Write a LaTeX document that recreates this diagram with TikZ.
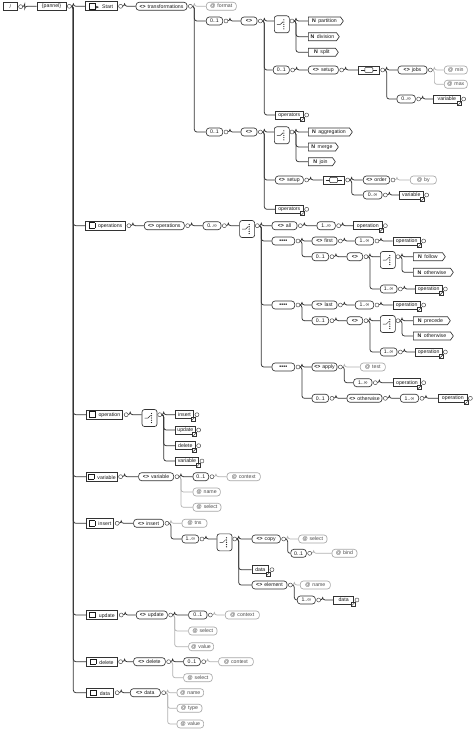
\documentclass[tikz,border=0pt]{standalone}
\usepackage{fontspec}
\setmainfont{Liberation Sans}
\newfontfamily\djv{DejaVu Sans}
\usetikzlibrary{shapes.symbols,calc}
\pgfdeclarelayer{bgg}
\pgfdeclarelayer{bgd}
\pgfsetlayers{bgg,bgd,main}
\tikzset{
 base/.style={font=\fontsize{5.2}{6}\selectfont, inner xsep=1pt, inner ysep=0pt, minimum height=8pt,
   text=black!90, draw=black!80, line width=0.65pt, fill=white, anchor=west},
 elbox/.style={base, rectangle},
 gbox/.style={base, rectangle, minimum height=9.3pt, line width=0.9pt},
 pill/.style={base, rounded corners=3pt},
 card/.style={pill},
 attr/.style={base, rounded corners=3pt, draw=black!35, text=black!70},
 enumn/.style={base, signal, signal to=east, signal pointer angle=110},
 refbox/.style={elbox},
 chbox/.style={base, rounded corners=2.5pt, minimum width=15pt, minimum height=17pt, anchor=north west},
 sqbox/.style={elbox, minimum width=21pt},
 cbtn/.style={circle, draw=black!75, fill=white, line width=0.45pt, inner sep=0pt, minimum size=4pt},
 dk/.style={draw=black!80, line width=0.75pt, rounded corners=2.5pt},
 lt/.style={draw=black!30, line width=0.7pt, rounded corners=2.5pt},
}
\newcommand\Nd[6]{\node[#1, minimum width={#4-#3}] (#2) at (#3,#5) {#6};}
\newcommand\Cb[1]{\node[cbtn] (#1c) at ([xshift=3pt]#1.east) {};}
\newcommand\Cnd[2]{\begin{pgfonlayer}{bgd}\draw[dk] (#1c.center) -- ++(4,0) |- (#2.west);\end{pgfonlayer}}
\newcommand\Cng[2]{\begin{pgfonlayer}{bgg}\draw[lt] (#1c.center) -- ++(4,0) |- (#2.west);\end{pgfonlayer}}
\newcommand\Chz[3]{%
 \node[chbox] (#1b) at (#2,#3-5.5) {};
 \coordinate (#1) at (#2,#3);
 \node[cbtn] (#1c) at (#2+18,#3) {};
 \draw[line width=0.5pt,black!85] ([shift={(-5,0)}]#1b.center) -- ++(3.5,0) -- ++(2.6,-2.6);
 \foreach \k in {-4.5,-2.25,0,2.25,4.5}{\fill[black!85] ([shift={(2,\k)}]#1b.center) circle (0.65pt);}
}
\newcommand\Rf[1]{%
 \draw[fill=white, draw=black!80, line width=0.45pt] ([shift={(-3,-2)}]#1.south east) rectangle ++(4,4);
 \draw[line width=0.45pt,black!85] ([shift={(-2.3,1.4)}]#1.south east) -- ++(2.6,-2.6);
}
\newcommand\Sqic[1]{%
 \draw[line width=0.5pt,black!85] ([xshift=-8pt]#1.center) -- ([xshift=8pt]#1.center);
 \draw[line width=0.5pt,black!85,fill=white,rounded corners=0.8pt] ([shift={(-4,-2.5)}]#1.center) rectangle ++(8,5);
}
\newcommand\Ico{\textbf{<>}\hspace{2pt}}
\newcommand\Ica{\textbf{@}\hspace{2pt}}
\newcommand\Icn{\textbf{N}\hspace{2.5pt}}
\newcommand\Icq{{\setlength\fboxsep{0pt}\setlength\fboxrule{0.5pt}\fbox{\rule{0pt}{5pt}\rule{5.5pt}{0pt}}}\hspace{3pt}}
\newcommand\Dots{{\fontsize{5.5}{5}\selectfont\textbf{••••}}}
\begin{document}
\begin{tikzpicture}[x=1pt,y=-1pt]
\useasboundingbox (0,0) rectangle (474,730);
\begin{pgfonlayer}{bgg}\fill[white] (0,0) rectangle (474,730);\end{pgfonlayer}
% ---- top rows
\Nd{elbox}{root}{3}{17}{6.7}{/} \Cb{root}
\Nd{elbox}{pan}{36.7}{65.7}{6.3}{\{pannel\}} \Cb{pan}
\Nd{gbox}{start}{85}{116.7}{6.3}{\Icq\hspace{-2.5pt}{\djv\fontsize{3.5}{4}\selectfont ▶}\hspace{3pt}Start} \Cb{start}
\Nd{pill}{trans}{135.7}{186.7}{6.3}{\Ico transformations} \Cb{trans}
\Nd{attr}{format}{206}{236}{6.3}{\Ica format}
\Nd{card}{to1}{206}{222.3}{21}{0..1} \Cb{to1}
\Nd{pill}{ts1}{240.7}{256.7}{21}{\textbf{<>}} \Cb{ts1}
\Chz{tch1}{274}{21}
\Nd{enumn}{part}{308}{343}{21}{\Icn partition}
\Nd{enumn}{divi}{308}{339}{36.7}{\Icn division}
\Nd{enumn}{split}{308}{338}{52.3}{\Icn split}
\Nd{card}{to2}{273}{289}{70}{0..1} \Cb{to2}
\Nd{pill}{tsetup}{308}{338}{70}{\Ico setup} \Cb{tsetup}
\Nd{sqbox}{tseq1}{358}{379}{70}{} \Cb{tseq1} \Sqic{tseq1}
\Nd{pill}{jobs}{397.7}{426.7}{70}{\Ico jobs} \Cb{jobs}
\Nd{attr}{amin}{444}{467}{70}{\Ica min}
\Nd{attr}{amax}{444}{467}{84.3}{\Ica max}
\Nd{card}{tvinf}{396.7}{415}{99}{0..∞} \Cb{tvinf}
\Nd{refbox}{tvar}{433}{460}{99}{variable} \Cb{tvar}
\Nd{refbox}{tops1}{275}{303}{115}{operators} \Cb{tops1}
\Nd{card}{to3}{206}{222.3}{132}{0..1} \Cb{to3}
\Nd{pill}{ts2}{240.7}{256.7}{132}{\textbf{<>}} \Cb{ts2}
\Chz{tch2}{274}{132}
\Nd{enumn}{agg}{308}{352}{132}{\Icn aggregation}
\Nd{enumn}{merge}{308}{338}{147}{\Icn merge}
\Nd{enumn}{join}{308}{335}{161.7}{\Icn join}
\Nd{pill}{tsetup2}{275}{303}{180}{\Ico setup} \Cb{tsetup2}
\Nd{sqbox}{tseq2}{322.7}{344}{180}{} \Cb{tseq2} \Sqic{tseq2}
\Nd{pill}{order}{363}{389.3}{180}{\Ico order} \Cb{order}
\Nd{attr}{aby}{410}{436}{180}{\Ica by}
\Nd{card}{tvinf2}{363}{381.7}{195}{0..∞} \Cb{tvinf2}
\Nd{refbox}{tvar2}{399}{423}{195}{variable} \Cb{tvar2}
\Nd{refbox}{tops2}{275}{303}{209.3}{operators} \Cb{tops2}
% ---- operations
\Nd{gbox}{gops}{85}{125}{225.7}{\Icq operations} \Cb{gops}
\Nd{pill}{oops}{144}{184}{225.7}{\Ico operations} \Cb{oops}
\Nd{card}{oinf}{202.7}{220.7}{225.7}{0..∞} \Cb{oinf}
\Chz{och}{239.3}{225.7}
\Nd{pill}{oall}{271.7}{296.7}{225.7}{\Ico all} \Cb{oall}
\Nd{card}{oall1}{316.7}{335}{225.7}{1..∞} \Cb{oall1}
\Nd{refbox}{oallop}{353.3}{381.7}{225.7}{operation} \Cb{oallop}
\Nd{pill}{osq1}{271.7}{294.3}{241}{\Dots} \Cb{osq1}
\Nd{pill}{ofirst}{311.7}{336.7}{241}{\Ico first} \Cb{ofirst}
\Nd{card}{of1}{355}{373.3}{241}{1..∞} \Cb{of1}
\Nd{refbox}{ofop}{392.7}{420}{241}{operation} \Cb{ofop}
\Nd{card}{ofo1}{311.7}{328.3}{256.7}{0..1} \Cb{ofo1}
\Nd{pill}{ofs}{346.7}{362.3}{256.7}{\textbf{<>}} \Cb{ofs}
\Chz{ofch}{380}{256.7}
\Nd{enumn}{follow}{413}{445}{256.7}{\Icn follow}
\Nd{enumn}{fother}{413}{453}{272.3}{\Icn otherwise}
\Nd{card}{ofinf}{380}{396.7}{289}{1..∞} \Cb{ofinf}
\Nd{refbox}{ofop2}{415}{441.7}{289}{operation} \Cb{ofop2}
\Nd{pill}{osq2}{271.7}{294.3}{305}{\Dots} \Cb{osq2}
\Nd{pill}{olast}{311.7}{336.7}{305}{\Ico last} \Cb{olast}
\Nd{card}{ol1}{355}{373.3}{305}{1..∞} \Cb{ol1}
\Nd{refbox}{olop}{392.7}{420}{305}{operation} \Cb{olop}
\Nd{card}{olo1}{311.7}{328.3}{320.7}{0..1} \Cb{olo1}
\Nd{pill}{ols}{346.7}{362.3}{320.7}{\textbf{<>}} \Cb{ols}
\Chz{olch}{380}{320.7}
\Nd{enumn}{precede}{413}{450}{320.7}{\Icn precede}
\Nd{enumn}{lother}{413}{453}{336}{\Icn otherwise}
\Nd{card}{olinf}{380}{396.7}{352}{1..∞} \Cb{olinf}
\Nd{refbox}{olop2}{415}{441.7}{352}{operation} \Cb{olop2}
\Nd{pill}{osq3}{271.7}{294.3}{367}{\Dots} \Cb{osq3}
\Nd{pill}{oapply}{311.7}{336.7}{367}{\Ico apply} \Cb{oapply}
\Nd{attr}{atest}{360}{385}{367}{\Ica test}
\Nd{card}{oa1}{353.3}{371.7}{382.7}{1..∞} \Cb{oa1}
\Nd{refbox}{oaop}{393.3}{420}{382.7}{operation} \Cb{oaop}
\Nd{card}{oao1}{311.7}{328.3}{398.3}{0..1} \Cb{oao1}
\Nd{pill}{oother}{346.7}{381.7}{398.3}{\Ico otherwise} \Cb{oother}
\Nd{card}{ooinf}{400}{418.3}{398.3}{1..∞} \Cb{ooinf}
\Nd{refbox}{ooop}{438.3}{466.7}{398.3}{operation} \Cb{ooop}
% ---- operation
\Nd{gbox}{gop}{86}{122.3}{414.7}{\Icq operation} \Cb{gop}
\Chz{pch}{141.7}{414.7}
\Nd{refbox}{pins}{175}{193.3}{414.7}{insert} \Cb{pins}
\Nd{refbox}{pupd}{175}{195}{430}{update} \Cb{pupd}
\Nd{refbox}{pdel}{175}{195}{445.7}{delete} \Cb{pdel}
\Nd{refbox}{pvar}{175}{198.3}{461}{variable} \Cb{pvar}
% ---- variable
\Nd{gbox}{gvar}{86}{116.7}{476.7}{\Icq variable} \Cb{gvar}
\Nd{pill}{vvar}{138.3}{173.3}{476.7}{\Ico variable} \Cb{vvar}
\Nd{card}{vo1}{192.7}{208.3}{476.7}{0..1} \Cb{vo1}
\Nd{attr}{vctx}{226.7}{260}{476.7}{\Ica context}
\Nd{attr}{vname}{192.7}{220}{492}{\Ica name}
\Nd{attr}{vsel}{192.7}{220.7}{507.3}{\Ica select}
% ---- insert
\Nd{gbox}{gins}{86}{113.3}{523.3}{\Icq insert} \Cb{gins}
\Nd{pill}{iins}{133.3}{163.3}{523.3}{\Ico insert} \Cb{iins}
\Nd{attr}{itns}{181.7}{206.7}{523.3}{\Ica tns}
\Nd{card}{iinf}{181.7}{198.3}{539}{1..∞} \Cb{iinf}
\Chz{ich}{216.7}{539}
\Nd{pill}{icopy}{251.7}{280}{539}{\Ico copy} \Cb{icopy}
\Nd{attr}{icsel}{298.3}{326.7}{539}{\Ica select}
\Nd{card}{io1}{290.5}{306}{553.3}{0..1} \Cb{io1}
\Nd{attr}{ibind}{331.7}{356.7}{553.3}{\Ica bind}
\Nd{refbox}{idata}{251.7}{268.3}{569.7}{data} \Cb{idata}
\Nd{pill}{ielem}{251.7}{286.7}{585}{\Ico element} \Cb{ielem}
\Nd{attr}{iename}{300}{330}{585}{\Ica name}
\Nd{card}{ieinf}{297}{315}{600}{1..∞} \Cb{ieinf}
\Nd{refbox}{iedata}{333.3}{353.3}{600}{data} \Cb{iedata}
% ---- update
\Nd{gbox}{gupd}{86}{117.3}{615}{\Icq update} \Cb{gupd}
\Nd{pill}{uupd}{136}{167}{615}{\Ico update} \Cb{uupd}
\Nd{card}{uo1}{188.3}{206.7}{615}{0..1} \Cb{uo1}
\Nd{attr}{uctx}{225}{259}{615}{\Ica context}
\Nd{attr}{usel}{188.3}{216.7}{631}{\Ica select}
\Nd{attr}{uval}{188.3}{213.3}{646.7}{\Ica value}
% ---- delete
\Nd{gbox}{gdel}{86}{116.7}{661.7}{\Icq delete} \Cb{gdel}
\Nd{pill}{ddel}{133.3}{165}{661.7}{\Ico delete} \Cb{ddel}
\Nd{card}{do1}{183.3}{200}{661.7}{0..1} \Cb{do1}
\Nd{attr}{dctx}{218.3}{253}{661.7}{\Ica context}
\Nd{attr}{dsel}{183.3}{212}{677.7}{\Ica select}
% ---- data
\Nd{gbox}{gdata}{86}{113.3}{692.7}{\Icq data} \Cb{gdata}
\Nd{pill}{ddata}{130}{160}{692.7}{\Ico data} \Cb{ddata}
\Nd{attr}{dname}{176.7}{203.3}{692.7}{\Ica name}
\Nd{attr}{dtype}{176.7}{201.7}{708.3}{\Ica type}
\Nd{attr}{dval}{176.7}{203.3}{724}{\Ica value}
% ---- ref icons
\foreach \r in {tvar,tops1,tvar2,tops2,oallop,ofop,ofop2,olop,olop2,oaop,ooop,pins,pupd,pdel,pvar,idata,iedata}{\Rf{\r}}
% ---- connectors
\Cnd{root}{pan}
\foreach \c in {start,gops,gop,gvar,gins,gupd,gdel,gdata}{\Cnd{pan}{\c}}
\Cnd{start}{trans}
\Cng{trans}{format} \Cnd{trans}{to1} \Cnd{trans}{to3}
\Cnd{to1}{ts1} \Cnd{ts1}{tch1} \Cnd{ts1}{to2} \Cnd{ts1}{tops1}
\Cnd{tch1}{part} \Cnd{tch1}{divi} \Cnd{tch1}{split}
\Cnd{to2}{tsetup} \Cnd{tsetup}{tseq1} \Cnd{tseq1}{jobs} \Cnd{tseq1}{tvinf}
\Cng{jobs}{amin} \Cng{jobs}{amax} \Cnd{tvinf}{tvar}
\Cnd{to3}{ts2} \Cnd{ts2}{tch2} \Cnd{ts2}{tsetup2} \Cnd{ts2}{tops2}
\Cnd{tch2}{agg} \Cnd{tch2}{merge} \Cnd{tch2}{join}
\Cnd{tsetup2}{tseq2} \Cnd{tseq2}{order} \Cnd{tseq2}{tvinf2} \Cng{order}{aby} \Cnd{tvinf2}{tvar2}
\Cnd{gops}{oops} \Cnd{oops}{oinf} \Cnd{oinf}{och}
\Cnd{och}{oall} \Cnd{och}{osq1} \Cnd{och}{osq2} \Cnd{och}{osq3}
\Cnd{oall}{oall1} \Cnd{oall1}{oallop}
\Cnd{osq1}{ofirst} \Cnd{osq1}{ofo1} \Cnd{ofirst}{of1} \Cnd{of1}{ofop}
\Cnd{ofo1}{ofs} \Cnd{ofs}{ofch} \Cnd{ofs}{ofinf} \Cnd{ofch}{follow} \Cnd{ofch}{fother} \Cnd{ofinf}{ofop2}
\Cnd{osq2}{olast} \Cnd{osq2}{olo1} \Cnd{olast}{ol1} \Cnd{ol1}{olop}
\Cnd{olo1}{ols} \Cnd{ols}{olch} \Cnd{ols}{olinf} \Cnd{olch}{precede} \Cnd{olch}{lother} \Cnd{olinf}{olop2}
\Cnd{osq3}{oapply} \Cnd{osq3}{oao1} \Cng{oapply}{atest} \Cnd{oapply}{oa1} \Cnd{oa1}{oaop}
\Cnd{oao1}{oother} \Cnd{oother}{ooinf} \Cnd{ooinf}{ooop}
\Cnd{gop}{pch} \Cnd{pch}{pins} \Cnd{pch}{pupd} \Cnd{pch}{pdel} \Cnd{pch}{pvar}
\Cnd{gvar}{vvar} \Cnd{vvar}{vo1} \Cng{vvar}{vname} \Cng{vvar}{vsel} \Cng{vo1}{vctx}
\Cnd{gins}{iins} \Cng{iins}{itns} \Cnd{iins}{iinf} \Cnd{iinf}{ich}
\Cnd{ich}{icopy} \Cnd{ich}{idata} \Cnd{ich}{ielem}
\Cng{icopy}{icsel} \Cnd{icopy}{io1} \Cng{io1}{ibind}
\Cng{ielem}{iename} \Cnd{ielem}{ieinf} \Cnd{ieinf}{iedata}
\Cnd{gupd}{uupd} \Cnd{uupd}{uo1} \Cng{uupd}{usel} \Cng{uupd}{uval} \Cng{uo1}{uctx}
\Cnd{gdel}{ddel} \Cnd{ddel}{do1} \Cng{ddel}{dsel} \Cng{do1}{dctx}
\Cnd{gdata}{ddata}
\Cng{ddata}{dname} \Cng{ddata}{dtype} \Cng{ddata}{dval}
\end{tikzpicture}
\end{document}
